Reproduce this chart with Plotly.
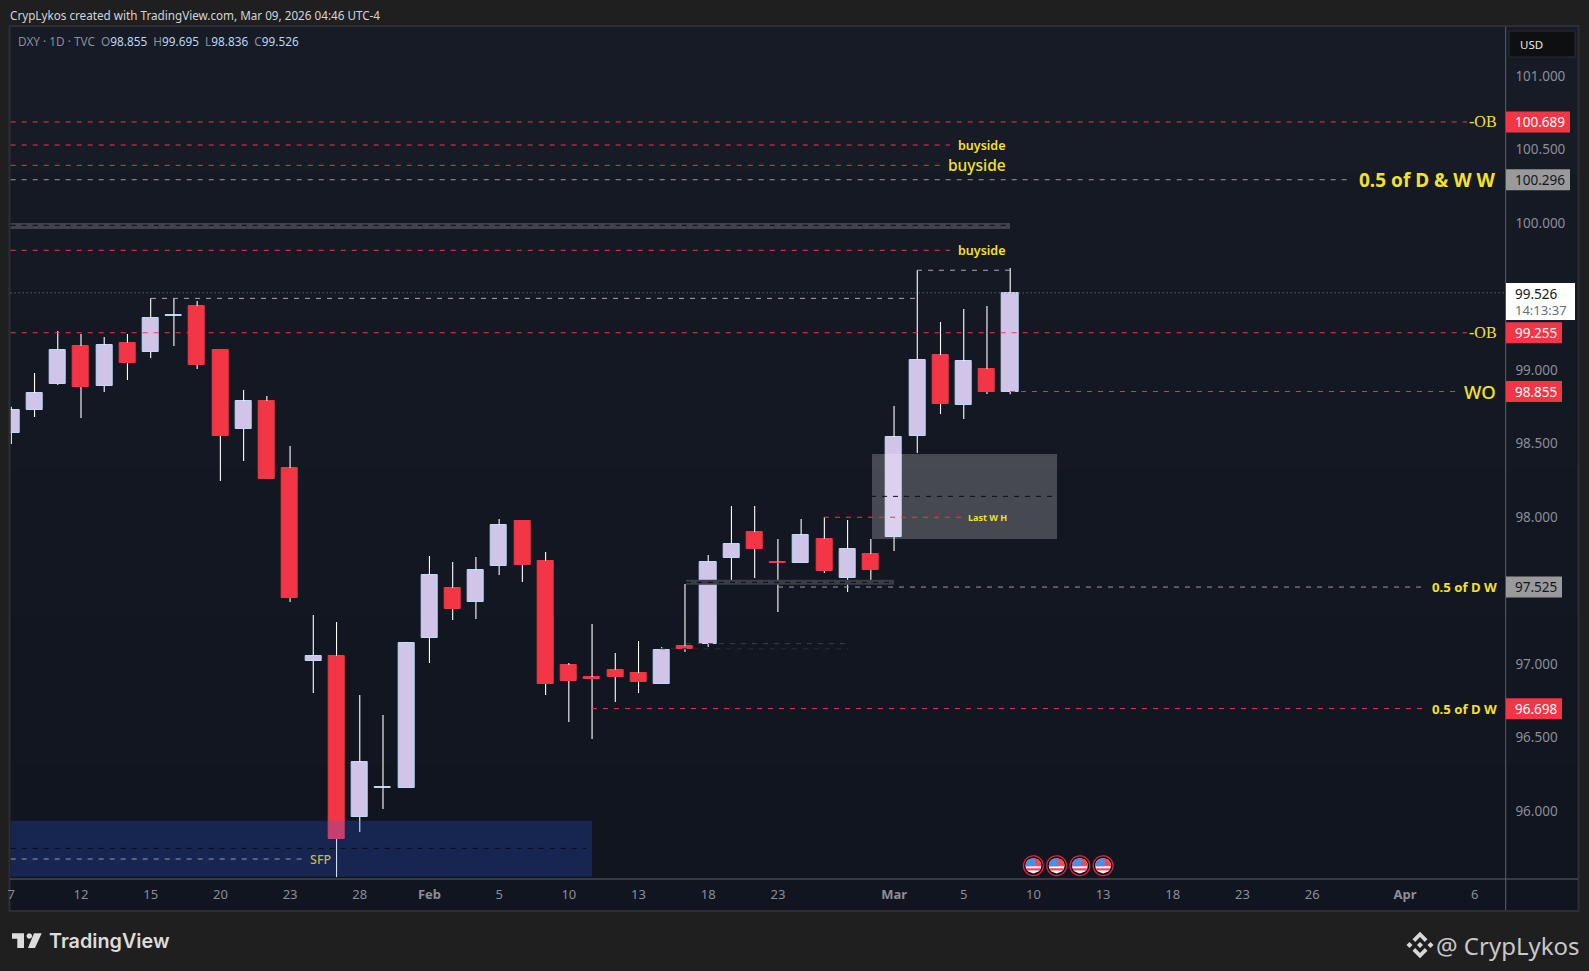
import numpy as np
import plotly.graph_objects as go

W, H = 1589, 971

# DXY daily candles (Jan 7 -> Mar 9 2026)
opens = [98.573, 98.729, 98.906, 99.165, 98.893, 99.185, 99.124, 99.370, 99.437, 99.137, 98.600,
         98.790, 98.335, 97.022, 97.056, 95.961, 96.160, 96.158, 97.178, 97.518, 97.423, 97.668,
         97.974, 97.702, 96.995, 96.913, 96.961, 96.940, 96.865, 97.124, 97.137, 97.723, 97.899,
         97.698, 97.688, 97.852, 97.586, 97.750, 97.865, 98.552, 99.103, 98.763, 99.008, 98.855]
highs = [98.752, 98.981, 99.267, 99.246, 99.226, 99.246, 99.489, 99.489, 99.471, 99.137, 98.865,
         98.824, 98.484, 97.335, 97.287, 96.790, 96.654, 97.151, 97.736, 97.695, 97.729, 97.988,
         97.974, 97.763, 97.008, 97.274, 97.076, 97.158, 97.117, 97.546, 97.743, 98.076, 98.076,
         97.852, 97.988, 98.001, 97.981, 97.852, 98.757, 99.680, 99.328, 99.416, 99.437, 99.695]
lows = [98.498, 98.682, 98.899, 98.675, 98.852, 98.933, 99.083, 99.165, 99.008, 98.246, 98.382,
        98.260, 97.423, 96.804, 95.552, 95.859, 96.015, 96.158, 97.008, 97.301, 97.307, 97.607,
        97.559, 96.790, 96.607, 96.491, 96.743, 96.804, 96.865, 97.083, 97.117, 97.573, 97.586,
        97.355, 97.688, 97.620, 97.491, 97.559, 97.770, 98.437, 98.702, 98.668, 98.838, 98.836]
closes = [98.729, 98.845, 99.137, 98.886, 99.171, 99.049, 99.355, 99.376, 99.035, 98.552, 98.790,
          98.260, 97.450, 97.056, 95.811, 96.335, 96.166, 97.144, 97.607, 97.376, 97.641, 97.947,
          97.675, 96.865, 96.886, 96.899, 96.913, 96.879, 97.097, 97.103, 97.695, 97.818, 97.784,
          97.690, 97.879, 97.634, 97.784, 97.641, 98.546, 99.069, 98.770, 99.063, 98.852, 99.526]

x_tick_bars = [0, 3, 6, 9, 12, 15, 18, 21, 24, 27, 30, 33, 38, 41, 44, 47, 50, 53, 56, 60, 63]
x_tick_text = ["7", "12", "15", "20", "23", "28", "<b>Feb</b>", "5", "10", "13", "18", "23",
               "<b>Mar</b>", "5", "10", "13", "18", "23", "26", "<b>Apr</b>", "6"]
y_ticks = [96, 96.5, 97, 98, 98.5, 99, 100, 100.5, 101]

event_bars = [44, 45, 46, 47]

RED = "#f23645"
LILAC = "#d1c4e9"
YELLOW = "#f4e02d"
GREY = "#9a9a9a"
AXIS_TXT = "#8b8e98"


def px(x):
    return x / W


def py(y):
    return 1 - y / H


# bar index -> page pixel, only used for decorations that have no price
def bar_px(i):
    return 11.3 + 23.23 * i


bars = np.arange(len(opens))
o, h, l, c = map(np.array, (opens, highs, lows, closes))
up = c >= o
body_top = np.maximum(o, c)
body_bot = np.minimum(o, c)

fig = go.Figure()

# wicks, split in two so they do not run over the bodies
wick_x, wick_y = [], []
for i in bars:
    wick_x += [i, i, None, i, i, None]
    wick_y += [h[i], body_top[i], None, body_bot[i], l[i], None]
fig.add_trace(go.Scatter(x=wick_x, y=wick_y, mode="lines", line=dict(color="#ffffff", width=1.1),
                         hoverinfo="skip"))

fig.add_trace(go.Bar(
    x=bars, base=body_bot, y=body_top - body_bot, width=0.69,
    marker=dict(color=[LILAC if u else RED for u in up],
                line=dict(color=["#b8dcf8" if u else RED for u in up], width=1)),
    hoverinfo="skip",
))

shapes = []
annots = []

# panel background, a soft top to bottom gradient
top_col = np.array([22, 27, 38])
bot_col = np.array([17, 21, 31])
n_bands = 6
for k in range(n_bands):
    col = top_col + (bot_col - top_col) * k / (n_bands - 1)
    y0 = 26 + (911 - 26) * k / n_bands
    y1 = 26 + (911 - 26) * (k + 1) / n_bands
    shapes.append(dict(type="rect", xref="paper", yref="paper", layer="below", line_width=0,
                       x0=px(10), x1=px(1578), y0=py(y0), y1=py(y1),
                       fillcolor="rgb(%d,%d,%d)" % tuple(col)))
shapes.append(dict(type="rect", xref="paper", yref="paper", layer="below",
                   x0=px(9.5), x1=px(1578.5), y0=py(26), y1=py(911),
                   line=dict(color="#2b2e35", width=2), fillcolor="rgba(0,0,0,0)"))
# axis lines
shapes.append(dict(type="line", xref="paper", yref="paper", layer="below", x0=px(10), x1=px(1578),
                   y0=py(879), y1=py(879), line=dict(color="#5d606b", width=1)))
shapes.append(dict(type="line", xref="paper", yref="paper", layer="below", x0=px(1505.7), x1=px(1505.7),
                   y0=py(27), y1=py(910), line=dict(color="#5d606b", width=1)))


def hline(level, x0, x1, color, dash="5px,6px", width=1):
    shapes.append(dict(type="line", xref="paper", yref="y", x0=px(x0), x1=px(x1), y0=level, y1=level,
                       line=dict(color=color, width=width, dash=dash)))


def zone(y0, y1, x0, x1, fill):
    shapes.append(dict(type="rect", xref="paper", yref="y", x0=px(x0), x1=px(x1), y0=y0, y1=y1,
                       fillcolor=fill, line_width=0))


def note(text, x, y, size, anchor="right", color=YELLOW, yref="y", weight=400, family="Noto Sans"):
    annots.append(dict(text=text, xref="paper", yref=yref, x=px(x), y=y, xanchor=anchor, yanchor="middle",
                       showarrow=False, font=dict(size=size, color=color, family=family, weight=weight)))


def price_tag(level, text, right, fill, txt_color):
    shapes.append(dict(type="rect", xref="paper", yref="y", ysizemode="pixel", yanchor=level,
                       x0=px(1506), x1=px(right), y0=-10.5, y1=10.5, fillcolor=fill, line_width=0))
    annots.append(dict(text=text, xref="paper", yref="y", x=px(1512.5), y=level, xanchor="left", yanchor="middle",
                       showarrow=False, font=dict(size=13.5, color=txt_color, family="Noto Sans")))


# zones
zone(95.554, 95.935, 10.7, 592, "rgba(41,98,255,0.22)")
zone(97.852, 98.430, 872, 1057, "rgba(255,255,255,0.22)")
zone(99.961, 100.001, 10.7, 1010, "#3f424d")
zone(97.540, 97.575, 686, 894, "#3a3d46")

# levels
hline(100.689, 10.7, 1467, RED)
hline(100.532, 10.7, 950, RED)
hline(100.394, 10.7, 944, RED)
hline(100.296, 10.7, 1347, GREY)
hline(99.986, 10.7, 1010, "#0b0d12")
hline(99.816, 10.7, 950, RED)
hline(99.526, 10.7, 1505, "#7c7f89", dash="1px,3px")
hline(99.680, 917, 1010, "#a8a8a8")
hline(99.489, 151, 917, "#a8a8a8")
hline(99.255, 10.7, 1467, RED)
hline(98.855, 1010, 1455, RED)
hline(98.142, 871, 1052, "#0b0d12")
hline(98.000, 824, 962, RED)
hline(97.557, 686, 894, "#0b0d12")
hline(97.525, 778, 1422, GREY)
hline(97.140, 686, 848, "#3a3d46")
hline(97.105, 660, 848, "#2a2c34")
hline(96.698, 592, 1422, RED)
hline(95.747, 10.7, 586, "#0b0d12")
hline(95.675, 10.7, 305, GREY)

# level labels
note("-OB", 1499, 100.689, 16, family="Liberation Serif")
note("buyside", 1008, 100.532, 12.5, weight=600)
note("buyside", 1008, 100.394, 15.5, weight=500)
note("0.5 of D &amp; W W", 1498, 100.296, 19, weight=700)
note("buyside", 1008, 99.816, 12.5, weight=600)
note("-OB", 1499, 99.255, 16, family="Liberation Serif")
note("WO", 1497.5, 98.855, 18.5, weight=500)
note("Last W H", 987, 98.000, 9, anchor="center", weight=700)
note("0.5 of D W", 1499, 97.525, 13.2, weight=700)
note("0.5 of D W", 1499, 96.698, 13.2, weight=700)
note("SFP", 320, 95.675, 12.5, anchor="center", color="#c9b93a", weight=500)

# price scale tags
price_tag(100.689, "100.689", 1570, RED, "#ffffff")
price_tag(100.296, "100.296", 1570, GREY, "#131722")
price_tag(99.255, "99.255", 1562, RED, "#ffffff")
price_tag(98.855, "98.855", 1562, RED, "#ffffff")
price_tag(97.525, "97.525", 1562, GREY, "#131722")
price_tag(96.698, "96.698", 1562, RED, "#ffffff")

# last price box
shapes.append(dict(type="rect", xref="paper", yref="paper", x0=px(1506), x1=px(1575), y0=py(283), y1=py(320),
                   fillcolor="#ffffff", line_width=0))
note("99.526", 1513, py(294.5), 13.5, anchor="left", color="#131722", yref="paper")
note("14:13:37", 1513, py(310), 13, anchor="left", color="#6a6d78", yref="paper")

# USD button
shapes.append(dict(type="rect", xref="paper", yref="paper", x0=px(1509), x1=px(1575), y0=py(31), y1=py(57),
                   fillcolor="#0e0f11", line=dict(color="#2a2e39", width=1)))
note("USD", 1518, py(44), 11.5, anchor="left", color="#e8e8e8", yref="paper")

# header texts
note("CrypLykos created with TradingView.com, Mar 09, 2026 04:46 UTC-4", 8, py(15), 11.7,
     anchor="left", color="#d1d4dc", yref="paper")
val = '<span style="color:#b9d7f2">%s</span>'
note("DXY · 1D · TVC  O" + val % "98.855" + "  H" + val % "99.695" + "  L" + val % "98.836" + "  C" + val % "99.526",
     16, py(41.5), 11.8, anchor="left", color="#8b8e98", yref="paper")


def poly(points, fill):
    path = "M " + " L ".join("%.5f,%.5f" % (px(a), py(b)) for a, b in points) + " Z"
    shapes.append(dict(type="path", xref="paper", yref="paper", path=path, fillcolor=fill, line_width=0))


def disc_part(cx, cy, r, y0, y1, x_max=None):
    # slice of a disc between two heights, optionally cut on the right
    ys = np.linspace(y0, y1, 9)
    half = np.sqrt(np.maximum(r ** 2 - (ys - cy) ** 2, 0))
    right = cx + half if x_max is None else np.minimum(cx + half, x_max)
    return list(zip(cx - half, ys)) + list(zip(right[::-1], ys[::-1]))


# US calendar flags
for i in event_bars:
    cx, cy = bar_px(i), 865.7
    ring = [(cx + 10.5 * np.cos(t), cy + 10.5 * np.sin(t)) for t in np.linspace(0, 2 * np.pi, 40)]
    poly(ring, "#e5233a")
    ring = [(cx + 9.2 * np.cos(t), cy + 9.2 * np.sin(t)) for t in np.linspace(0, 2 * np.pi, 40)]
    poly(ring, "#0c0e13")
    poly(disc_part(cx, cy, 7.8, cy - 7.8, cy + 7.8), "#ffffff")
    poly(disc_part(cx, cy, 7.8, cy - 7.8, cy + 0.5), "#ef4a5a")
    poly(disc_part(cx, cy, 7.8, cy + 2.5, cy + 4.8), "#ef4a5a")
    poly(disc_part(cx, cy, 7.8, cy - 7.8, cy + 0.5, x_max=cx + 1.5), "#4a90e2")

# TradingView logo
poly([(12, 933.3), (24, 933.3), (24, 948), (17.3, 948), (17.3, 938.7), (12, 938.7)], "#dcdcdc")
poly([(29.3 + 2.7 * np.cos(t), 936 + 2.7 * np.sin(t)) for t in np.linspace(0, 2 * np.pi, 20)], "#dcdcdc")
poly([(34, 933.3), (41.7, 933.3), (35, 948), (28, 948)], "#dcdcdc")
note("TradingView", 46.5, py(941), 19.8, anchor="left", color="#dcdcdc", yref="paper", weight=600, family="Inter")

# Binance-style mark next to the handle
bx, by = 1420, 945
for dx, dy in [(0, 0), (-10.5, 0), (10.5, 0)]:
    poly([(bx + dx, by + dy - 3), (bx + dx + 3, by + dy), (bx + dx, by + dy + 3), (bx + dx - 3, by + dy)], "#d8d8d8")
poly([(bx, by - 13.3), (bx + 7.5, by - 5.8), (bx + 4.8, by - 3.1), (bx, by - 7.9), (bx - 4.8, by - 3.1),
      (bx - 7.5, by - 5.8)], "#d8d8d8")
poly([(bx, by + 13.3), (bx + 7.5, by + 5.8), (bx + 4.8, by + 3.1), (bx, by + 7.9), (bx - 4.8, by + 3.1),
      (bx - 7.5, by + 5.8)], "#d8d8d8")
note("@ CrypLykos", 1582, py(945), 24, color="#c8c8c8", yref="paper")

fig.update_layout(
    width=W, height=H,
    margin=dict(l=0, r=0, t=0, b=0, autoexpand=False),
    paper_bgcolor="#1f1f1f",
    plot_bgcolor="rgba(0,0,0,0)",
    showlegend=False,
    hovermode=False,
    bargap=0,
    shapes=shapes,
    annotations=annots,
    xaxis=dict(
        domain=[px(10.7), px(1505.7)],
        range=[-0.026, 64.33],
        tickmode="array", tickvals=x_tick_bars, ticktext=x_tick_text,
        ticks="outside", ticklen=3, tickcolor="rgba(0,0,0,0)",
        tickfont=dict(size=13, color=AXIS_TXT, family="Noto Sans"),
        showgrid=False, zeroline=False, showline=False, fixedrange=True,
    ),
    yaxis=dict(
        domain=[py(879), py(27)],
        range=[95.539, 101.335],
        side="right", anchor="x",
        tickmode="array", tickvals=y_ticks, tickformat=".3f",
        ticks="outside", ticklen=6, tickcolor="rgba(0,0,0,0)",
        tickfont=dict(size=13.5, color=AXIS_TXT, family="Noto Sans"),
        showgrid=False, zeroline=False, showline=False, fixedrange=True,
    ),
)

fig.write_html("out.html", config={"displayModeBar": False},
               post_script="document.body.style.margin='0';document.body.style.overflow='hidden';")
